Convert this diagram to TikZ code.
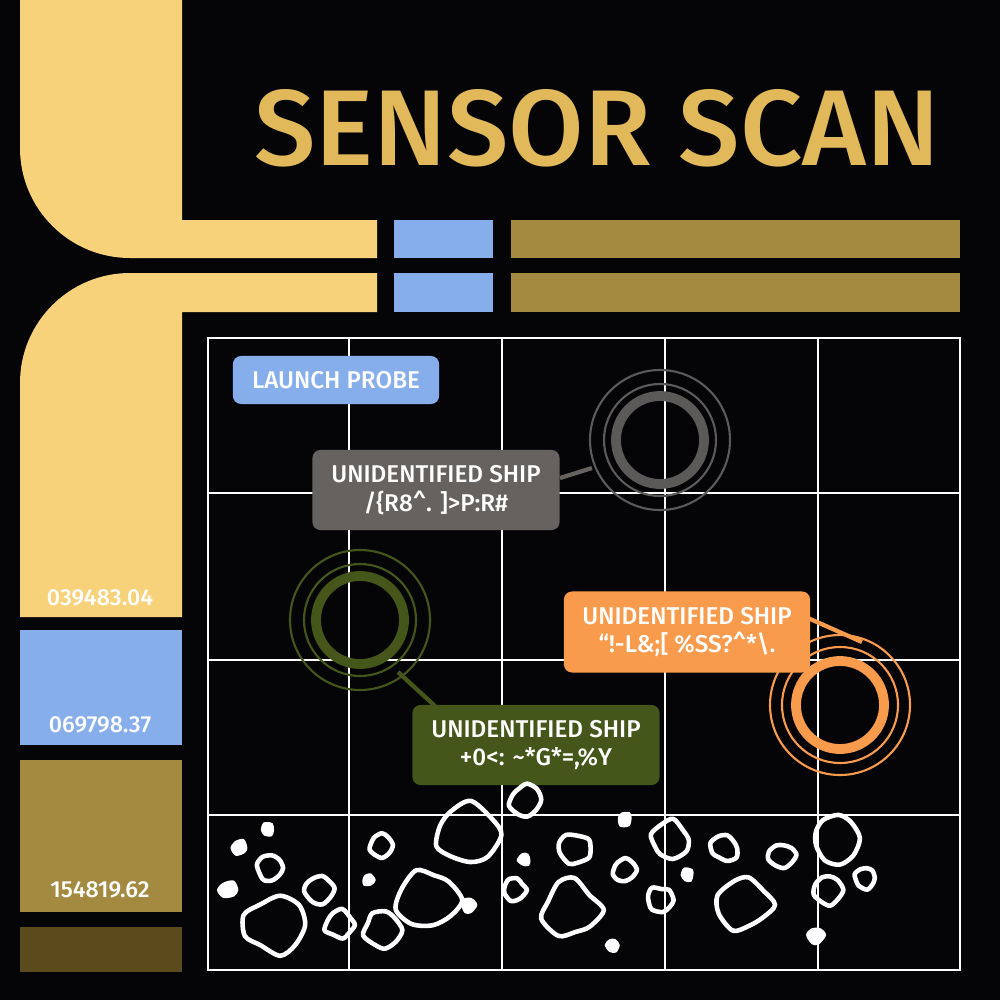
\documentclass[tikz,border=0pt]{standalone}
\usepackage{fontspec}
\setmainfont{Fira Sans}[BoldFont={Fira Sans Medium}]
\usepackage{graphicx}
\definecolor{bg}{HTML}{050508}
\definecolor{lyel}{HTML}{F8D27A}
\definecolor{lblue}{HTML}{86AEEB}
\definecolor{gold}{HTML}{A38A40}
\definecolor{dgold}{HTML}{5A4A1C}
\definecolor{ttl}{HTML}{E2B95A}
\definecolor{sgray}{HTML}{656260}
\definecolor{cgray}{HTML}{5C5A59}
\definecolor{sgreen}{HTML}{445619}
\definecolor{sorange}{HTML}{F89B4D}
\begin{document}
\begin{tikzpicture}[x=0.01cm,y=-0.01cm,
  lbl/.style={rounded corners=0.08cm,text=white,align=center,inner sep=0pt,font=\fontsize{6.9}{8.2}\selectfont\bfseries},
  num/.style={text=white,font=\fontsize{6.6}{7}\selectfont\bfseries,anchor=center},
  rock/.style={draw=white,line width=1.3pt,line join=round},
  frock/.style={fill=white,draw=white,line width=0.6pt}]
\fill[bg] (0,0) rectangle (1000,1000);
\useasboundingbox (0,0) rectangle (1000,1000);
% elbows
\fill[lyel] (20,0) -- (182,0) -- (182,220) -- (377,220) -- (377,258) -- (130,258) arc[start angle=90,end angle=180,radius=110] -- cycle;
\fill[lyel] (377,273) -- (377,312) -- (182,312) -- (182,617) -- (20,617) -- (20,383) arc[start angle=180,end angle=270,radius=110] -- cycle;
\fill[lblue] (394,220) rectangle (493,258);
\fill[lblue] (394,273) rectangle (493,312);
\fill[gold] (511,220) rectangle (960,258);
\fill[gold] (511,273) rectangle (960,312);
\fill[lblue] (20,630) rectangle (182,745);
\fill[gold] (20,760) rectangle (182,912);
\fill[dgold] (20,927) rectangle (182,972);
\node[num] (n1) at (100,598) {039483.04};
\node[num] (n2) at (100,725) {069798.37};
\node[num] (n3) at (100,890) {154819.62};
\node[text=ttl,inner sep=0pt] (title) at (597,128) {\resizebox{6.85cm}{0.76cm}{\bfseries SENSOR SCAN}};
% grid
\draw[white,line width=0.6pt] (208,338) rectangle (960,970);
\foreach \x in {349,502,665,818} \draw[white,line width=0.6pt] (\x,338) -- (\x,970);
\foreach \y in {493,660,815} \draw[white,line width=0.6pt] (208,\y) -- (960,\y);
% launch
\node[lbl,fill=lblue,minimum width=2.06cm,minimum height=0.48cm] (launch) at (336,380) {LAUNCH PROBE};
% gray
\coordinate (gc) at (660,440);
\draw[cgray,line width=0.6pt] (gc) circle[radius=70];
\draw[cgray,line width=0.6pt] (gc) circle[radius=56];
\draw[cgray,line width=2.8pt] (gc) circle[radius=44];
\node[lbl,fill=sgray,minimum width=2.47cm,minimum height=0.8cm] (gl) at (436,490) {UNIDENTIFIED SHIP\\/\{R8\^{}. ]>P:R\#};
\draw[sgray,line width=1.2pt] (560,478) -- (592,468);
% green
\coordinate (ec) at (360,620);
\draw[sgreen,line width=0.6pt] (ec) circle[radius=70];
\draw[sgreen,line width=0.6pt] (ec) circle[radius=56];
\draw[sgreen,line width=2.8pt] (ec) circle[radius=44];
\node[lbl,fill=sgreen,minimum width=2.47cm,minimum height=0.8cm] (el) at (536,745) {UNIDENTIFIED SHIP\\+0<: \textasciitilde*G*=,\%Y};
\draw[sgreen,line width=1.2pt] (398,672) -- (435,706);
% orange
\coordinate (oc) at (840,705);
\draw[sorange,line width=0.6pt] (oc) circle[radius=70];
\draw[sorange,line width=0.6pt] (oc) circle[radius=58];
\draw[sorange,line width=2.8pt] (oc) circle[radius=44];
\node[lbl,fill=sorange,minimum width=2.46cm,minimum height=0.81cm] (ol) at (687,632) {UNIDENTIFIED SHIP\\“!-L\&;[ \%SS?\^{}*\textbackslash.};
\draw[sorange,line width=1.2pt] (808,618) -- (862,642);
% asteroids
\pgfmathsetseed{11}
\foreach \cx/\cy/\r in {270/868/12,275/925/28,320/888/14,380/845/11,340/925/14,382/930/17,428/900/30,465/835/30,525/800/15,515/890/11,575/848/15,570/910/28,624/870/11,660/900/14,670/840/18,725/848/13,745/905/25,782/855/12,835/838/24,865/878/11,828/890/14}
  \draw[rock] plot[smooth cycle,samples=9,domain=0:320] ({\cx+\r*(1+0.22*rand)*cos(\x)},{\cy+\r*(1+0.22*rand)*sin(\x)});
\foreach \cx/\cy/\r in {268/830/7,240/848/7,228/890/9,368/880/6,468/905/7,525/860/6,625/818/7,612/945/6,688/875/6,815/935/8}
  \fill[frock] plot[smooth cycle,samples=6,domain=0:300] ({\cx+\r*(1+0.3*rand)*cos(\x)},{\cy+\r*(1+0.3*rand)*sin(\x)});
\end{tikzpicture}
\end{document}
